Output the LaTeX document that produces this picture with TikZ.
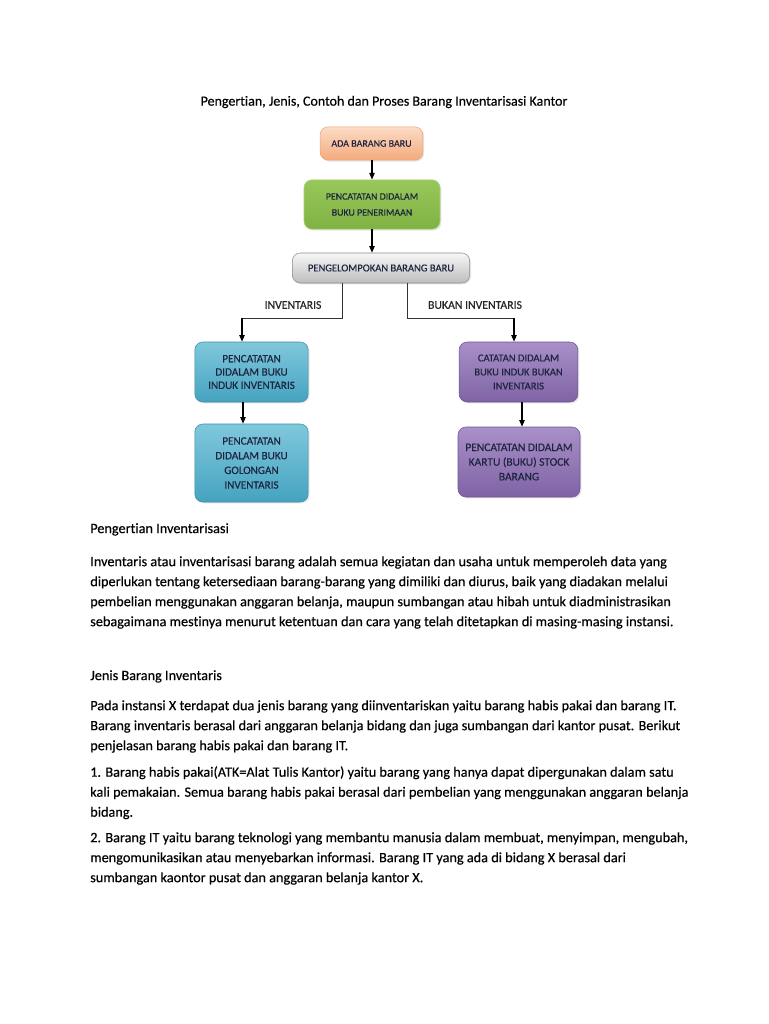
\documentclass[tikz,border=0pt]{standalone}
\usepackage{fontspec}
\setmainfont{Carlito}[Ligatures=NoCommon,FakeBold=0.35]
\usetikzlibrary{arrows.meta,positioning,calc,shadows}
\definecolor{peachtop}{HTML}{FCDCC6}
\definecolor{peachbot}{HTML}{F4AA7C}
\definecolor{peachline}{HTML}{EFA37A}
\definecolor{leaftop}{HTML}{98C75A}
\definecolor{leafbot}{HTML}{80B243}
\definecolor{leafline}{HTML}{A9CF78}
\definecolor{greytop}{HTML}{F7F7F7}
\definecolor{greybot}{HTML}{BDBDBD}
\definecolor{greyline}{HTML}{8C8C8C}
\definecolor{tealtop}{HTML}{80C8DC}
\definecolor{tealbot}{HTML}{45A3C0}
\definecolor{tealline}{HTML}{3B8DA8}
\definecolor{plumtop}{HTML}{A990C8}
\definecolor{plumbot}{HTML}{7F63A5}
\definecolor{plumline}{HTML}{6E5494}
\definecolor{inkdark}{HTML}{1E2440}

\begin{document}
\begin{tikzpicture}[x=0.75pt,y=-0.75pt,
  box/.style={rounded corners=6pt,align=center,inner sep=2pt,text=inkdark,
    font=\fontsize{7.5}{10}\selectfont,
    drop shadow={opacity=0.2,shadow xshift=1pt,shadow yshift=-1pt}},
  newbox/.style={box,top color=peachtop,bottom color=peachbot,draw=peachline,
    minimum width=77pt,minimum height=25pt},
  recbox/.style={box,top color=leaftop,bottom color=leafbot,draw=leafline,
    minimum width=102pt,minimum height=37pt,font=\fontsize{7.4}{12}\selectfont},
  groupbox/.style={box,top color=greytop,bottom color=greybot,draw=greyline,
    minimum width=133pt,minimum height=22.5pt,font=\fontsize{7.9}{10}\selectfont},
  invbox/.style={box,top color=tealtop,bottom color=tealbot,draw=tealline,
    minimum width=85pt},
  noninvbox/.style={box,top color=plumtop,bottom color=plumbot,draw=plumline},
  flow/.style={-{Triangle[length=5pt,width=4pt]},line width=0.9pt},
  branch/.style={line width=0.6pt,draw=black!80},
  branchlabel/.style={font=\fontsize{8.8}{10}\selectfont,text=black!85},
  heading/.style={anchor=north west,inner sep=0pt,font=\fontsize{10.7}{15}\selectfont},
  para/.style={anchor=north west,inner sep=0pt,align=left,font=\fontsize{10.7}{15}\selectfont}
]
\fill[white] (0,0) rectangle (768,1024);
\useasboundingbox (0,0) rectangle (768,1024);

% title
\node[font=\fontsize{10.5}{13}\selectfont] (title) at (384,102)
  {Pengertian, Jenis, Contoh dan Proses Barang Inventarisasi Kantor};

% flow chart
\node[newbox] (baru) at (371.5,143.5) {ADA BARANG BARU};
\node[recbox] (terima) at (372,204.5) {PENCATATAN DIDALAM\\BUKU PENERIMAAN};
\node[groupbox] (kelompok) at (381,268) {PENGELOMPOKAN BARANG BARU};
\node[invbox,minimum height=45pt,font=\fontsize{8.4}{10}\selectfont] (induk) at (251.5,372)
  {PENCATATAN\\DIDALAM BUKU\\INDUK INVENTARIS};
\node[invbox,minimum height=58.5pt,font=\fontsize{8.4}{11}\selectfont] (golongan) at (251.5,463)
  {PENCATATAN\\DIDALAM BUKU\\GOLONGAN\\INVENTARIS};
\node[noninvbox,minimum width=89pt,minimum height=45pt,font=\fontsize{7.9}{10.5}\selectfont] (indukbukan) at (518.5,372)
  {CATATAN DIDALAM\\BUKU INDUK BUKAN\\INVENTARIS};
\node[noninvbox,minimum width=91.5pt,minimum height=52.5pt,font=\fontsize{8.6}{11}\selectfont] (kartu) at (519,462)
  {PENCATATAN DIDALAM\\KARTU (BUKU) STOCK\\BARANG};

\draw[flow] (baru.south -| 372,0) -- (terima.north -| 372,0);
\draw[flow] (terima.south -| 372,0) -- (kelompok.north -| 372,0);

% branches
\coordinate (turnA) at (342,318);
\coordinate (turnL) at (242,318);
\coordinate (turnB) at (407,318);
\coordinate (turnR) at (514,318);
\draw[branch] (kelompok.south -| turnA) -- (turnA) -- (turnL);
\draw[flow] (turnL) -- (induk.north -| turnL);
\draw[branch] (kelompok.south -| turnB) -- (turnB) -- (turnR);
\draw[flow] (turnR) -- (indukbukan.north -| turnR);
\node[branchlabel] (lblinv) at (293,305) {INVENTARIS};
\node[branchlabel] (lblbukan) at (475,305) {BUKAN INVENTARIS};

\draw[flow] (induk.south -| 243,0) -- (golongan.north -| 243,0);
\draw[flow] (indukbukan.south -| 522,0) -- (kartu.north -| 522,0);

% text below
\node[heading] (h1) at (90,523) {Pengertian Inventarisasi};
\node[para] (p1) at (90,556) {Inventaris atau inventarisasi barang adalah semua kegiatan dan usaha untuk memperoleh data yang\\
diperlukan tentang ketersediaan barang-barang yang dimiliki dan diurus, baik yang diadakan melalui\\
pembelian menggunakan anggaran belanja, maupun sumbangan atau hibah untuk diadministrasikan\\
sebagaimana mestinya menurut ketentuan dan cara yang telah ditetapkan di masing-masing instansi.};
\node[heading] (h2) at (90,670) {Jenis Barang Inventaris};
\node[para] (p2) at (90,700) {Pada instansi X terdapat dua jenis barang yang diinventariskan yaitu barang habis pakai dan barang IT.\\
Barang inventaris berasal dari anggaran belanja bidang dan juga sumbangan dari kantor pusat. Berikut\\
penjelasan barang habis pakai dan barang IT.};
\node[para] (p3) at (90,766) {1. Barang habis pakai(ATK=Alat Tulis Kantor) yaitu barang yang hanya dapat dipergunakan dalam satu\\
kali pemakaian. Semua barang habis pakai berasal dari pembelian yang menggunakan anggaran belanja\\
bidang.};
\node[para] (p4) at (90,832) {2. Barang IT yaitu barang teknologi yang membantu manusia dalam membuat, menyimpan, mengubah,\\
mengomunikasikan atau menyebarkan informasi. Barang IT yang ada di bidang X berasal dari\\
sumbangan kaontor pusat dan anggaran belanja kantor X.};
\end{tikzpicture}
\end{document}
